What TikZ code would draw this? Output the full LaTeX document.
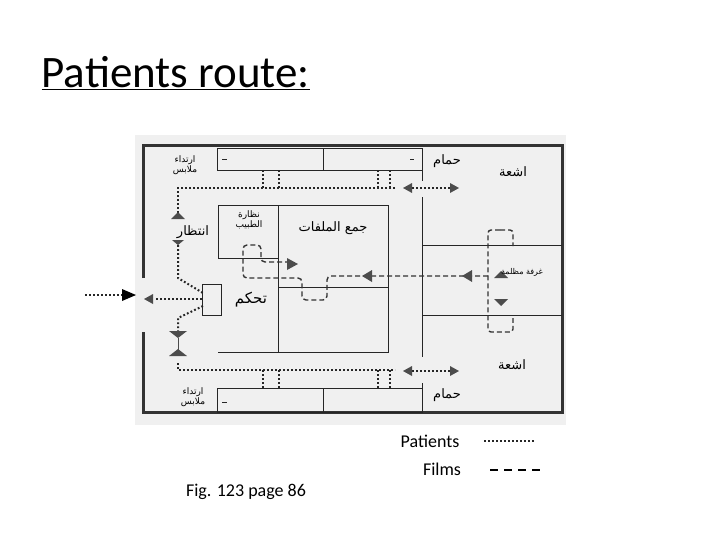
\documentclass[tikz,border=0pt]{standalone}
\usepackage{fontspec}
\setmainfont{Carlito}
\newfontfamily\arab[Script=Arabic]{DejaVu Sans}
\usetikzlibrary{arrows.meta}
\TeXXeTstate=1
\newcommand{\ar}[1]{{\arab\beginR #1\endR}}
\begin{document}
\begin{tikzpicture}[x=1pt,y=-1pt,
  wall/.style={line width=1pt,black!85},
  outer/.style={line width=3pt,black!80},
  pat/.style={line width=2pt,black!85,dash pattern=on 1.8pt off 2.2pt},
  film/.style={line width=1.4pt,black!80,dash pattern=on 5pt off 3pt},
  lbl/.style={font=\arab\fontsize{9}{10}\selectfont,align=center},
  big/.style={font=\arab\fontsize{13}{14}\selectfont}]
\useasboundingbox (0,0) rectangle (728,546);
\fill[black!6] (135,135) rectangle (566,425);
% title
\node[anchor=west,font=\fontsize{45}{48}\selectfont] (title) at (38,73) {\underline{Patients route:}};
% outer walls
\draw[outer] (143,278) -- (143,145) -- (562,145) -- (562,412) -- (143,412) -- (143,332);
% top rooms
\draw[wall] (217,148) rectangle (422,170);
\draw[wall] (323,148) -- (323,170);
\draw[wall] (222,159) -- (227,159) (410,159) -- (414,159);
% bottom rooms
\draw[wall] (217,388) rectangle (422,412);
\draw[wall] (323,388) -- (323,412);
\draw[wall] (222,402) -- (227,402);
% main vertical
\draw[wall] (422,148) -- (422,181) (422,197) -- (422,357) (422,383) -- (422,412);
\draw[wall] (422,245) -- (562,245) (422,315) -- (562,315);
% centre
\draw[wall] (218,205) rectangle (278,258);
\draw[wall] (278,205) rectangle (388,352);
\draw[wall] (278,287) -- (388,287);
\draw[wall] (218,352) -- (278,352);
\draw[wall] (202,284) rectangle (221,315);
% patients routes
\draw[pat] (395,188) -- (178,188) -- (178,214);
\draw[pat] (178,245) -- (178,278) -- (203,293);
\draw[pat] (156,299) -- (202,299);
\draw[pat] (203,306) -- (178,318) -- (178,331);
\draw[pat] (178,363) -- (178,370) -- (395,370);
\draw[pat] (263,188) -- (263,170) (279,188) -- (279,170) (378,188) -- (378,170) (390,188) -- (390,170);
\draw[pat] (263,370) -- (263,388) (279,370) -- (279,388) (378,370) -- (378,388) (390,370) -- (390,388);
\draw[pat] (412,188) -- (450,188);
\draw[pat] (412,371) -- (450,371);
\fill[black!70] (403,188) -- (412,183) -- (412,193) -- cycle;
\fill[black!70] (459,188) -- (450,183) -- (450,193) -- cycle;
\fill[black!70] (403,371) -- (412,366) -- (412,376) -- cycle;
\fill[black!70] (459,371) -- (450,366) -- (450,376) -- cycle;
\fill[black!70] (144,299) -- (153,294) -- (153,304) -- cycle;
\fill[black!70] (171,219) -- (185,219) -- (178,212) -- cycle;
\fill[black!70] (172,240) -- (184,240) -- (178,245) -- cycle;
\fill[black!70] (169,331) -- (187,331) -- (178,338) -- cycle;
\draw[black!70,line width=1pt] (178,338) -- (178,350);
\fill[black!70] (169,356) -- (187,356) -- (178,349) -- cycle;
\fill[black!70] (494,278) -- (508,278) -- (501,271) -- cycle;
\fill[black!70] (494,299) -- (508,299) -- (501,306) -- cycle;
% entry
\coordinate (e0) at (85,295); \coordinate (e1) at (136,295);
\draw[pat] (e0) -- (122,295);
\fill[black] (e1) -- (122,289) -- (122,301) -- cycle;
% films
\draw[film,rounded corners=4pt] (488,276) -- (327,276) -- (327,300) -- (302,300) -- (302,278) -- (243,278) -- (243,245) -- (261,245) -- (261,262) -- (288,262);
\fill[black!70] (298,264) -- (287,258) -- (287,270) -- cycle;
\fill[black!70] (462,276) -- (472,270) -- (472,282) -- cycle;
\fill[black!70] (362,276) -- (372,270) -- (372,282) -- cycle;
\draw[film,rounded corners=3pt] (500,230) -- (488,230) -- (488,332) -- (513,332) -- (513,318);
\draw[film,rounded corners=3pt] (500,230) -- (513,230) -- (513,246);
% labels
\node[lbl] (l1) at (185,165) {\ar{ارتداء}\\ \ar{ملابس}};
\node[lbl] (l2) at (193,397) {\ar{ارتداء}\\ \ar{ملابس}};
\node[big] (l3) at (447,161) {\ar{حمام}};
\node[big] (l4) at (447,395) {\ar{حمام}};
\node[big] (l5) at (513,172) {\ar{اشعة}};
\node[big] (l6) at (512,365) {\ar{اشعة}};
\node[big] (l7) at (193,232) {\ar{انتظار}};
\node[lbl] (l8) at (249,220) {\ar{نظارة}\\ \ar{الطبيب}};
\node[big] (l9) at (333,228) {\ar{جمع الملفات}};
\node[big,font=\arab\fontsize{15}{16}\selectfont] (l10) at (251,300) {\ar{تحكم}};
\node[lbl,font=\arab\fontsize{8}{9}\selectfont] (l11) at (522,272) {\ar{غرفة مظلمة}};
% legend
\node[font=\fontsize{18}{20}\selectfont] (lp) at (430,441) {Patients};
\draw[pat] (484,441) -- (535,441);
\node[font=\fontsize{18}{20}\selectfont] (lf) at (442,469) {Films};
\draw[line width=1.8pt,dash pattern=on 8pt off 6pt] (490,470) -- (541,470);
\node[font=\fontsize{18}{20}\selectfont] (fig) at (246,492) {Fig. 123 page 86};
\end{tikzpicture}
\end{document}
